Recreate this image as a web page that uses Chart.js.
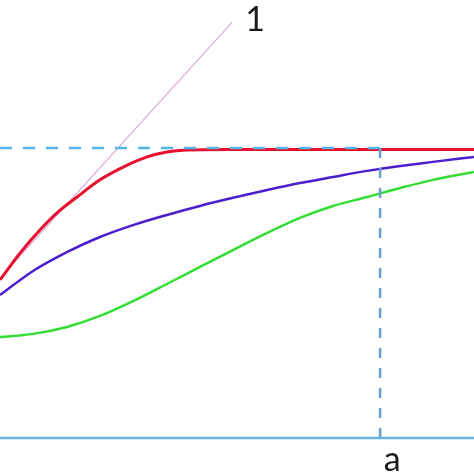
<!DOCTYPE html>
<html lang="en">
<head>
    <meta charset="UTF-8">
    <title>Response curves</title>
    <script src="https://cdn.jsdelivr.net/npm/chart.js"></script>
    <style>
        * { margin: 0; padding: 0; box-sizing: border-box; }
        body { background: #fff; }
        .wrap { width: 474px; height: 474px; position: relative; }
    </style>
</head>
<body>
    <div class="wrap"><canvas id="curveChart"></canvas></div>
<script>
    // x in units of "a" (a = 1), y in units of the dashed level (1 = saturation)
    const redX = [0, 0.053, 0.105, 0.150, 0.203, 0.263, 0.324, 0.387, 0.439, 0.492, 0.6, 0.8, 1.0, 1.247];
    const redY = [0.545, 0.638, 0.717, 0.776, 0.831, 0.890, 0.934, 0.969, 0.986, 0.993, 0.995, 0.995, 0.995, 0.995];

    const blueX = [0, 0.087, 0.176, 0.263, 0.350, 0.439, 0.526, 0.613, 0.703, 0.789, 0.876, 0.966, 1.053, 1.139, 1.247];
    const blueY = [0.493, 0.576, 0.641, 0.693, 0.734, 0.769, 0.800, 0.828, 0.855, 0.879, 0.900, 0.921, 0.938, 0.952, 0.969];

    const greenX = [0, 0.087, 0.176, 0.263, 0.350, 0.439, 0.526, 0.613, 0.703, 0.789, 0.876, 0.966, 1.053, 1.139, 1.247];
    const greenY = [0.348, 0.359, 0.383, 0.421, 0.472, 0.531, 0.590, 0.648, 0.707, 0.759, 0.800, 0.831, 0.862, 0.890, 0.917];

    // tangent line "1"
    const tangentX = [0, 0.611];
    const tangentY = [0.552, 1.434];

    const levelY = 1.0;     // dashed saturation level
    const markA = 1.0;      // position of "a"
    const xMax = 1.247;
    const yMin = -0.124;
    const yMax = 1.51;

    const labels = [
        { text: '1', x: 0.671, y: 1.441 },
        { text: 'a', x: 1.032, y: -0.076 }
    ];

    function pts(xs, ys) {
        return xs.map((x, i) => ({ x: x, y: ys[i] }));
    }

    const textPlugin = {
        id: 'textLabels',
        afterDatasetsDraw(chart) {
            const ctx = chart.ctx;
            const sx = chart.scales.x, sy = chart.scales.y;
            ctx.save();
            ctx.fillStyle = '#1a1a1a';
            ctx.font = '34px Lato, "Open Sans", sans-serif';
            ctx.textAlign = 'center';
            ctx.textBaseline = 'middle';
            labels.forEach(l => {
                ctx.fillText(l.text, sx.getPixelForValue(l.x), sy.getPixelForValue(l.y));
            });
            ctx.restore();
        }
    };

    const ctx = document.getElementById('curveChart').getContext('2d');
    new Chart(ctx, {
        type: 'line',
        data: {
            datasets: [
                {
                    data: pts([0, markA], [levelY, levelY]),
                    borderColor: '#55b4e8',
                    borderWidth: 2.5,
                    borderDash: [12, 11]
                },
                {
                    data: pts([markA, markA], [0, levelY]),
                    borderColor: '#6a9fd6',
                    borderWidth: 2.5,
                    borderDash: [10, 10]
                },
                {
                    data: pts([0, xMax], [0, 0]),
                    borderColor: '#6cb4e4',
                    borderWidth: 2.5
                },
                {
                    data: pts(redX, redY),
                    borderColor: '#e8102e',
                    borderWidth: 3,
                    cubicInterpolationMode: 'monotone'
                },
                {
                    data: pts(tangentX, tangentY),
                    borderColor: '#d8a8d8',
                    borderWidth: 1.2
                },
                {
                    data: pts(blueX, blueY),
                    borderColor: '#4b1fd0',
                    borderWidth: 2.5,
                    cubicInterpolationMode: 'monotone'
                },
                {
                    data: pts(greenX, greenY),
                    borderColor: '#33dd33',
                    borderWidth: 2.5,
                    cubicInterpolationMode: 'monotone'
                }
            ]
        },
        options: {
            responsive: true,
            maintainAspectRatio: false,
            animation: false,
            layout: { padding: 0 },
            elements: { point: { radius: 0 } },
            plugins: {
                legend: { display: false },
                tooltip: { enabled: false }
            },
            scales: {
                x: { type: 'linear', min: 0, max: xMax, display: false },
                y: { type: 'linear', min: yMin, max: yMax, display: false }
            }
        },
        plugins: [textPlugin]
    });
</script>
</body>
</html>
